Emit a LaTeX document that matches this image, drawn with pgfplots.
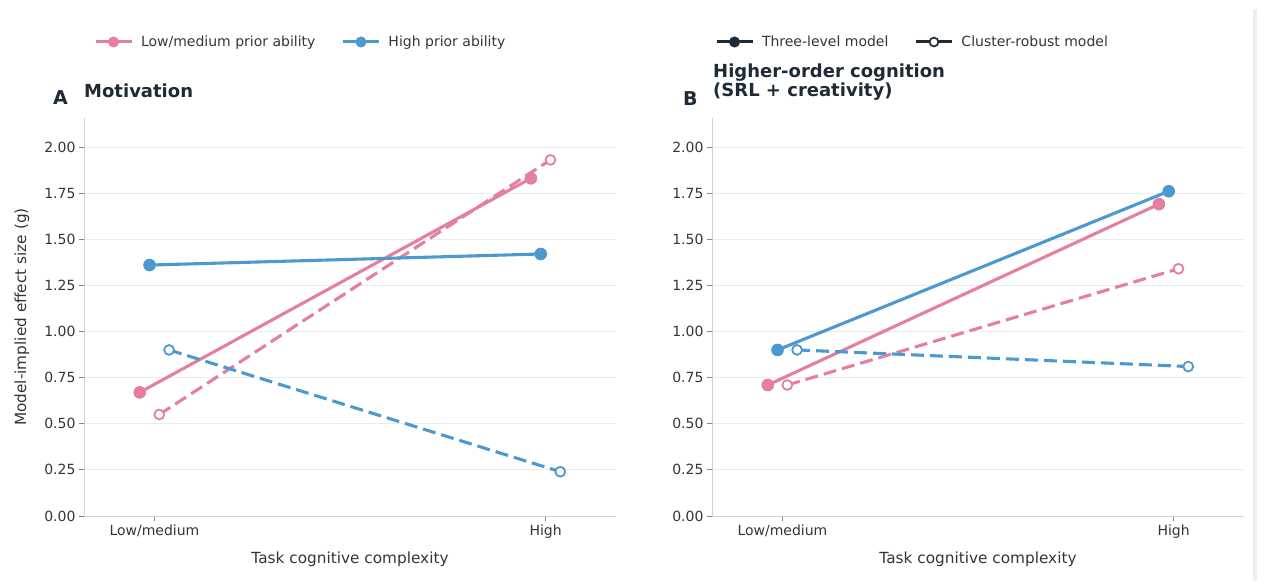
\documentclass[border=0pt]{standalone}
\usepackage{pgfplots}
\pgfplotsset{compat=1.18}
\usepackage{fontspec}
\setmainfont{DejaVu Sans}

\definecolor{pinkc}{HTML}{E47FA0}
\definecolor{bluec}{HTML}{4B99CE}
\definecolor{darkc}{HTML}{1F2A37}
\definecolor{gridc}{HTML}{E8ECF1}
\definecolor{spinec}{HTML}{C9D2DC}
\definecolor{textc}{HTML}{353535}
\definecolor{barc}{HTML}{EEEEEE}

\pgfplotsset{
  panel/.style={
    scale only axis, width=532pt, height=398pt, anchor=south west,
    xmin=-0.18, xmax=1.18, ymin=0, ymax=2.157,
    xtick={0,1}, xticklabels={Low/medium,High},
    ytick={0,0.25,0.5,0.75,1,1.25,1.5,1.75,2},
    yticklabel style={/pgf/number format/.cd, fixed, fixed zerofill, precision=2},
    /pgf/number format/assume math mode=true,
    axis lines*=left,
    axis line style={spinec, line width=1pt},
    ymajorgrids, grid style={gridc, line width=0.9pt},
    major tick length=5pt, tick align=outside,
    tick style={color=textc!60, line width=0.9pt},
    ticklabel style={font=\fontsize{14}{17}\selectfont, text=textc},
    label style={font=\fontsize{15.3}{18}\selectfont, text=textc},
    xlabel={Task cognitive complexity},
    xlabel shift=7pt,
    clip=false,
    legend columns=2,
    legend cell align=left,
    legend style={draw=none, fill=none, inner sep=0pt, outer sep=0pt,
      anchor=west, font=\fontsize{14}{17}\selectfont, text=textc,
      nodes={inner xsep=5pt, inner ysep=1pt},
      /tikz/every odd column/.append style={column sep=3pt},
      /tikz/every even column/.append style={column sep=21pt}},
    legend image code/.code={%
      \draw[mark repeat=2, mark phase=2, ##1]
        plot coordinates {(0pt,0pt) (18pt,0pt) (36pt,0pt)};},
  },
  tl/.style={line width=3.1pt, mark=*, mark size=5.8pt,
    mark options={solid, line width=1pt}},
  cr/.style={line width=3.1pt, dash pattern=on 13pt off 6pt, mark=*,
    mark size=4.9pt, mark options={solid, fill=white, line width=1.8pt}},
  lgfill/.style={line width=3pt, mark=*, mark size=5pt,
    mark options={solid, line width=1pt}},
  lgopen/.style={line width=3pt, mark=*, mark size=4.4pt,
    mark options={solid, fill=white, line width=1.7pt}},
}

\begin{document}
\begin{tikzpicture}
\useasboundingbox (0pt,0pt) rectangle (1265pt,581pt);
\fill[barc] (1253pt,0pt) rectangle (1257pt,572pt);

% Panel A: motivation
\begin{axis}[panel, at={(84pt,65pt)},
  ylabel={Model-implied effect size (g)}, ylabel shift=8pt,
  legend style={at={(axis description cs:0,1)}, xshift=10pt, yshift=76pt}]
\addlegendimage{pinkc, lgfill}
\addlegendentry{Low/medium prior ability}
\addlegendimage{bluec, lgfill}
\addlegendentry{High prior ability}
\addplot[forget plot, tl, color=pinkc] coordinates {(-0.0375,0.67) (0.9625,1.83)};
\addplot[forget plot, cr, color=pinkc] coordinates {(0.0125,0.55) (1.0125,1.93)};
\addplot[forget plot, tl, color=bluec] coordinates {(-0.0125,1.36) (0.9875,1.42)};
\addplot[forget plot, cr, color=bluec] coordinates {(0.0375,0.90) (1.0375,0.24)};
\end{axis}

% Panel B: higher-order cognition
\begin{axis}[panel, at={(712pt,65pt)},
  legend style={at={(axis description cs:0,1)}, xshift=3pt, yshift=76pt,
    /tikz/every even column/.append style={column sep=21pt}}]
\addlegendimage{darkc, lgfill}
\addlegendentry{Three-level model}
\addlegendimage{darkc, lgopen}
\addlegendentry{Cluster-robust model}
\addplot[forget plot, tl, color=pinkc] coordinates {(-0.0375,0.71) (0.9625,1.69)};
\addplot[forget plot, cr, color=pinkc] coordinates {(0.0125,0.71) (1.0125,1.34)};
\addplot[forget plot, tl, color=bluec] coordinates {(-0.0125,0.90) (0.9875,1.76)};
\addplot[forget plot, cr, color=bluec] coordinates {(0.0375,0.90) (1.0375,0.81)};
\end{axis}

% Panel letters and titles
\begin{scope}[every node/.style={inner sep=0pt, anchor=base west, text=darkc}]
\node[font=\bfseries\fontsize{19}{22}\selectfont] at (53pt,476pt) {A};
\node[font=\bfseries\fontsize{18}{21}\selectfont] at (84pt,483pt) {Motivation};
\node[font=\bfseries\fontsize{19}{22}\selectfont] at (683pt,475pt) {B};
\node[font=\bfseries\fontsize{18}{21}\selectfont] at (713pt,503pt) {Higher-order cognition};
\node[font=\bfseries\fontsize{18}{21}\selectfont] at (713pt,484pt) {(SRL + creativity)};
\end{scope}
\end{tikzpicture}
\end{document}
